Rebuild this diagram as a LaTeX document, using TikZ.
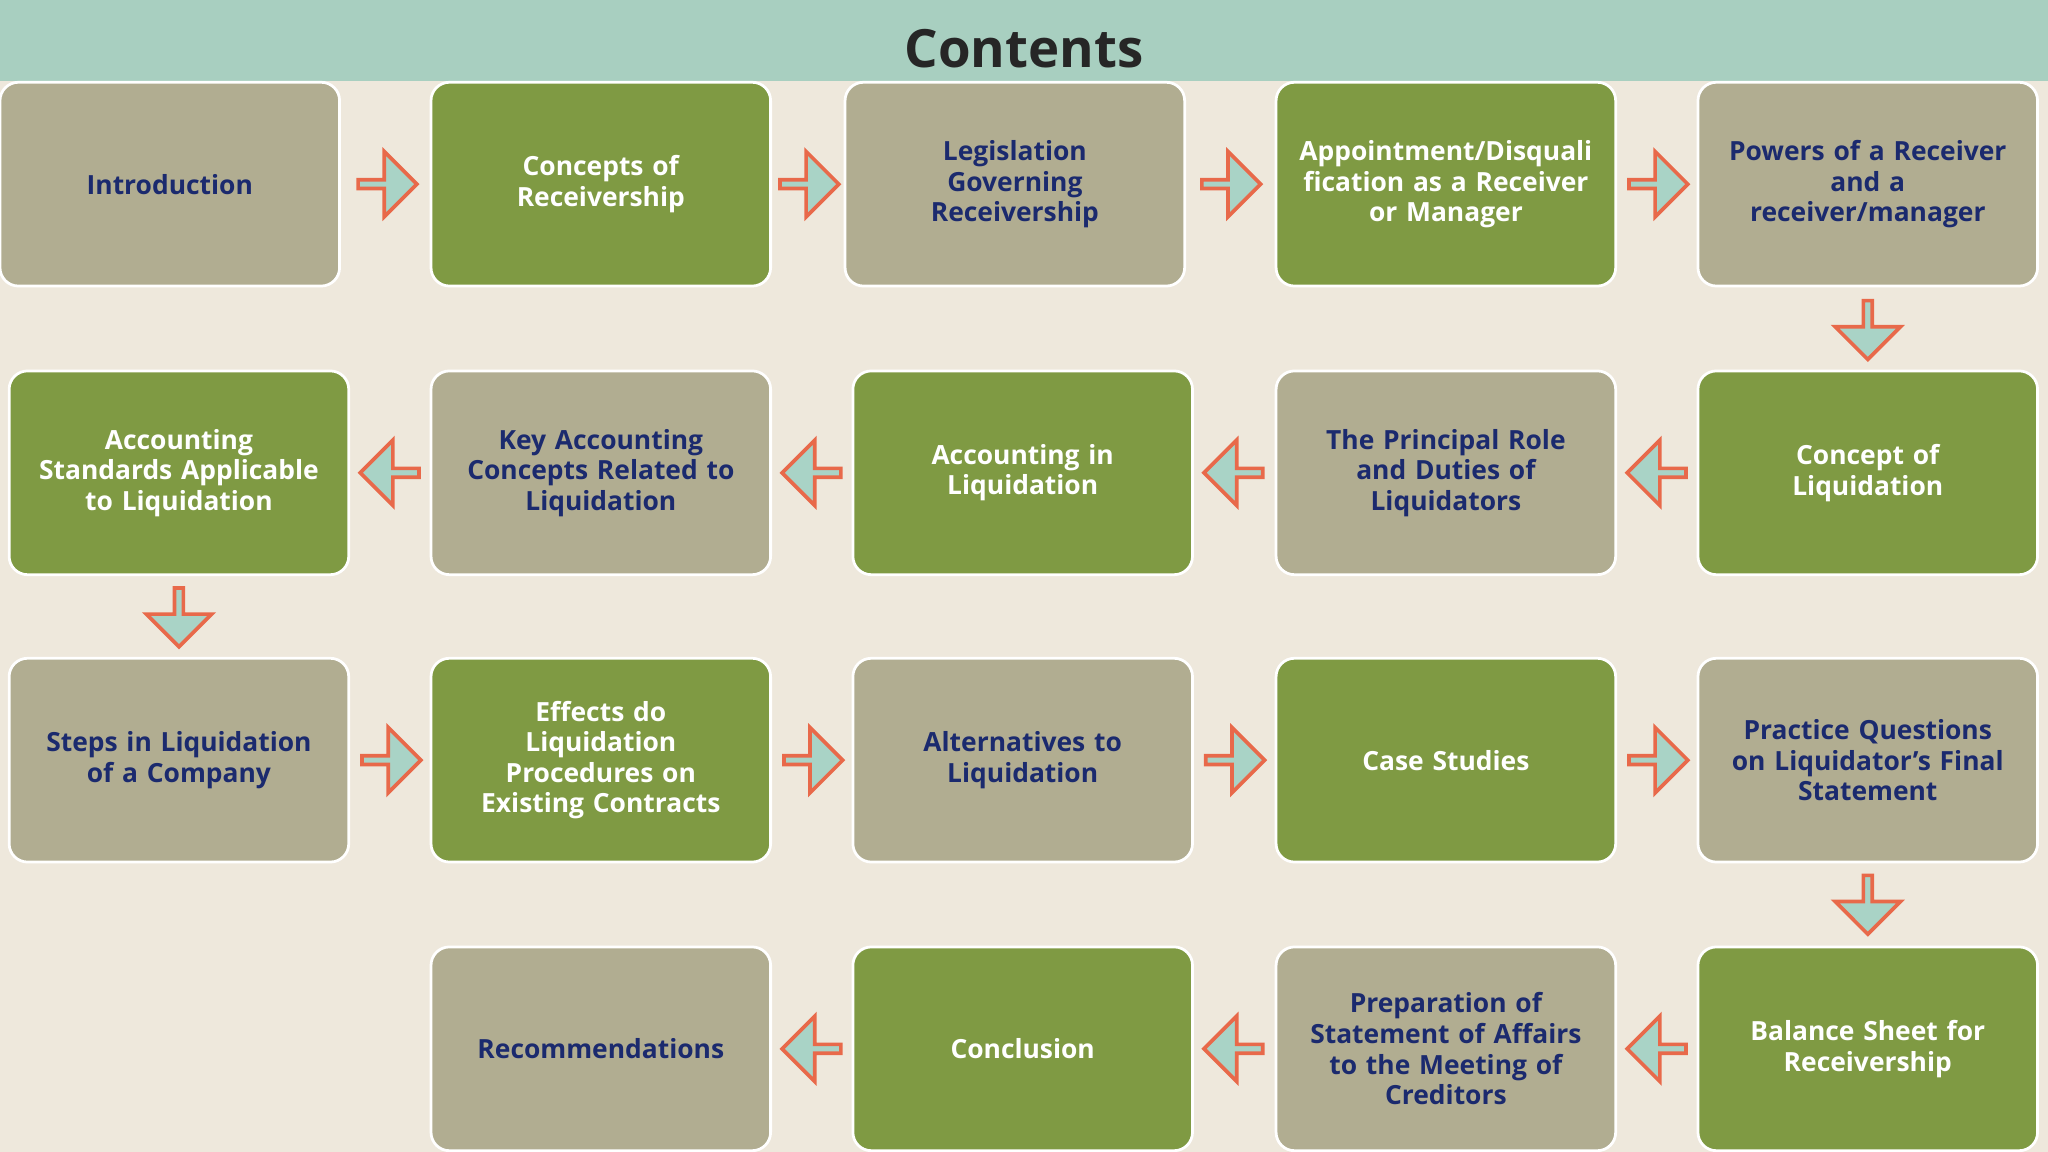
\documentclass[tikz,border=0pt]{standalone}
\usepackage{fontspec}
\setmainfont{Open Sans}
\usetikzlibrary{shapes.arrows}
\definecolor{bgcream}{HTML}{EEE8DC}
\definecolor{titlebar}{HTML}{A8CFC0}
\definecolor{boxgray}{HTML}{B1AD91}
\definecolor{boxgreen}{HTML}{7F9A43}
\definecolor{navytext}{HTML}{1B2A6E}
\definecolor{arrowfill}{HTML}{A9D3C6}
\definecolor{arrowline}{HTML}{E8694A}
\tikzset{
  topic/.style={rounded corners=8pt, draw=white, line width=1.2pt,
    minimum width=5.2cm, minimum height=3.12cm, text width=4.9cm, align=center,
    font=\bfseries\fontsize{11.5}{13.3}\selectfont},
  graytopic/.style={topic, fill=boxgray, text=navytext},
  greentopic/.style={topic, fill=boxgreen, text=white},
  flecha/.style={single arrow, draw=arrowline, fill=arrowfill, line width=1.6pt,
    minimum height=0.9cm, minimum width=1cm, single arrow head extend=0.18cm,
    inner sep=0pt}
}
\begin{document}
\begin{tikzpicture}[x=0.2mm, y=-0.2mm]
\useasboundingbox (0,0) rectangle (1568,882);
\fill[bgcream] (0,0) rectangle (1568,882);
\fill[titlebar] (0,0) rectangle (1568,62);
\node[font=\bfseries\fontsize{23}{26}\selectfont, text=black!85] (title) at (784,37) {Contents};

% Fila 1
\node[graytopic]  (intro)   at (130,141)  {Introduction};
\node[greentopic] (concrec) at (460,141)  {Concepts of\\Receivership};
\node[graytopic]  (legis)   at (777,141)  {Legislation\\Governing\\Receivership};
\node[greentopic] (appoint) at (1107,141) {Appointment/Disquali\\fication as a Receiver\\or Manager};
\node[graytopic]  (powers)  at (1430,141) {Powers of a Receiver\\and a\\receiver/manager};

% Fila 2
\node[greentopic] (standards) at (137,362)  {Accounting\\Standards Applicable\\to Liquidation};
\node[graytopic]  (keyacc)    at (460,362)  {Key Accounting\\Concepts Related to\\Liquidation};
\node[greentopic] (accliq)    at (783,362)  {Accounting in\\Liquidation};
\node[graytopic]  (duties)    at (1107,362) {The Principal Role\\and Duties of\\Liquidators};
\node[greentopic] (concliq)   at (1430,362) {Concept of\\Liquidation};

% Fila 3
\node[graytopic]  (steps)     at (137,582)  {Steps in Liquidation\\of a Company};
\node[greentopic] (effects)   at (460,582)  {Effects do\\Liquidation\\Procedures on\\Existing Contracts};
\node[graytopic]  (altern)    at (783,582)  {Alternatives to\\Liquidation};
\node[greentopic] (cases)     at (1107,582) {Case Studies};
\node[graytopic]  (practice)  at (1430,582) {Practice Questions\\on Liquidator’s Final\\Statement};

% Fila 4
\node[graytopic]  (recom)     at (460,803)  {Recommendations};
\node[greentopic] (conclu)    at (783,803)  {Conclusion};
\node[graytopic]  (prep)      at (1107,803) {Preparation of\\Statement of Affairs\\to the Meeting of\\Creditors};
\node[greentopic] (balance)   at (1430,803) {Balance Sheet for\\Receivership};

% Flechas
\node[flecha] (a1) at (295,141) {};
\node[flecha] (a2) at (618,141) {};
\node[flecha] (a3) at (941,141) {};
\node[flecha] (a4) at (1268,141) {};
\node[flecha, shape border rotate=270] (a5) at (1430,251) {};
\node[flecha, shape border rotate=180] (a6) at (1270,362) {};
\node[flecha, shape border rotate=180] (a7) at (946,362) {};
\node[flecha, shape border rotate=180] (a8) at (623,362) {};
\node[flecha, shape border rotate=180] (a9) at (300,362) {};
\node[flecha, shape border rotate=270] (a10) at (137,471) {};
\node[flecha] (a11) at (298,582) {};
\node[flecha] (a12) at (621,582) {};
\node[flecha] (a13) at (944,582) {};
\node[flecha] (a14) at (1268,582) {};
\node[flecha, shape border rotate=270] (a15) at (1430,691) {};
\node[flecha, shape border rotate=180] (a16) at (1270,803) {};
\node[flecha, shape border rotate=180] (a17) at (946,803) {};
\node[flecha, shape border rotate=180] (a18) at (623,803) {};
\end{tikzpicture}
\end{document}
